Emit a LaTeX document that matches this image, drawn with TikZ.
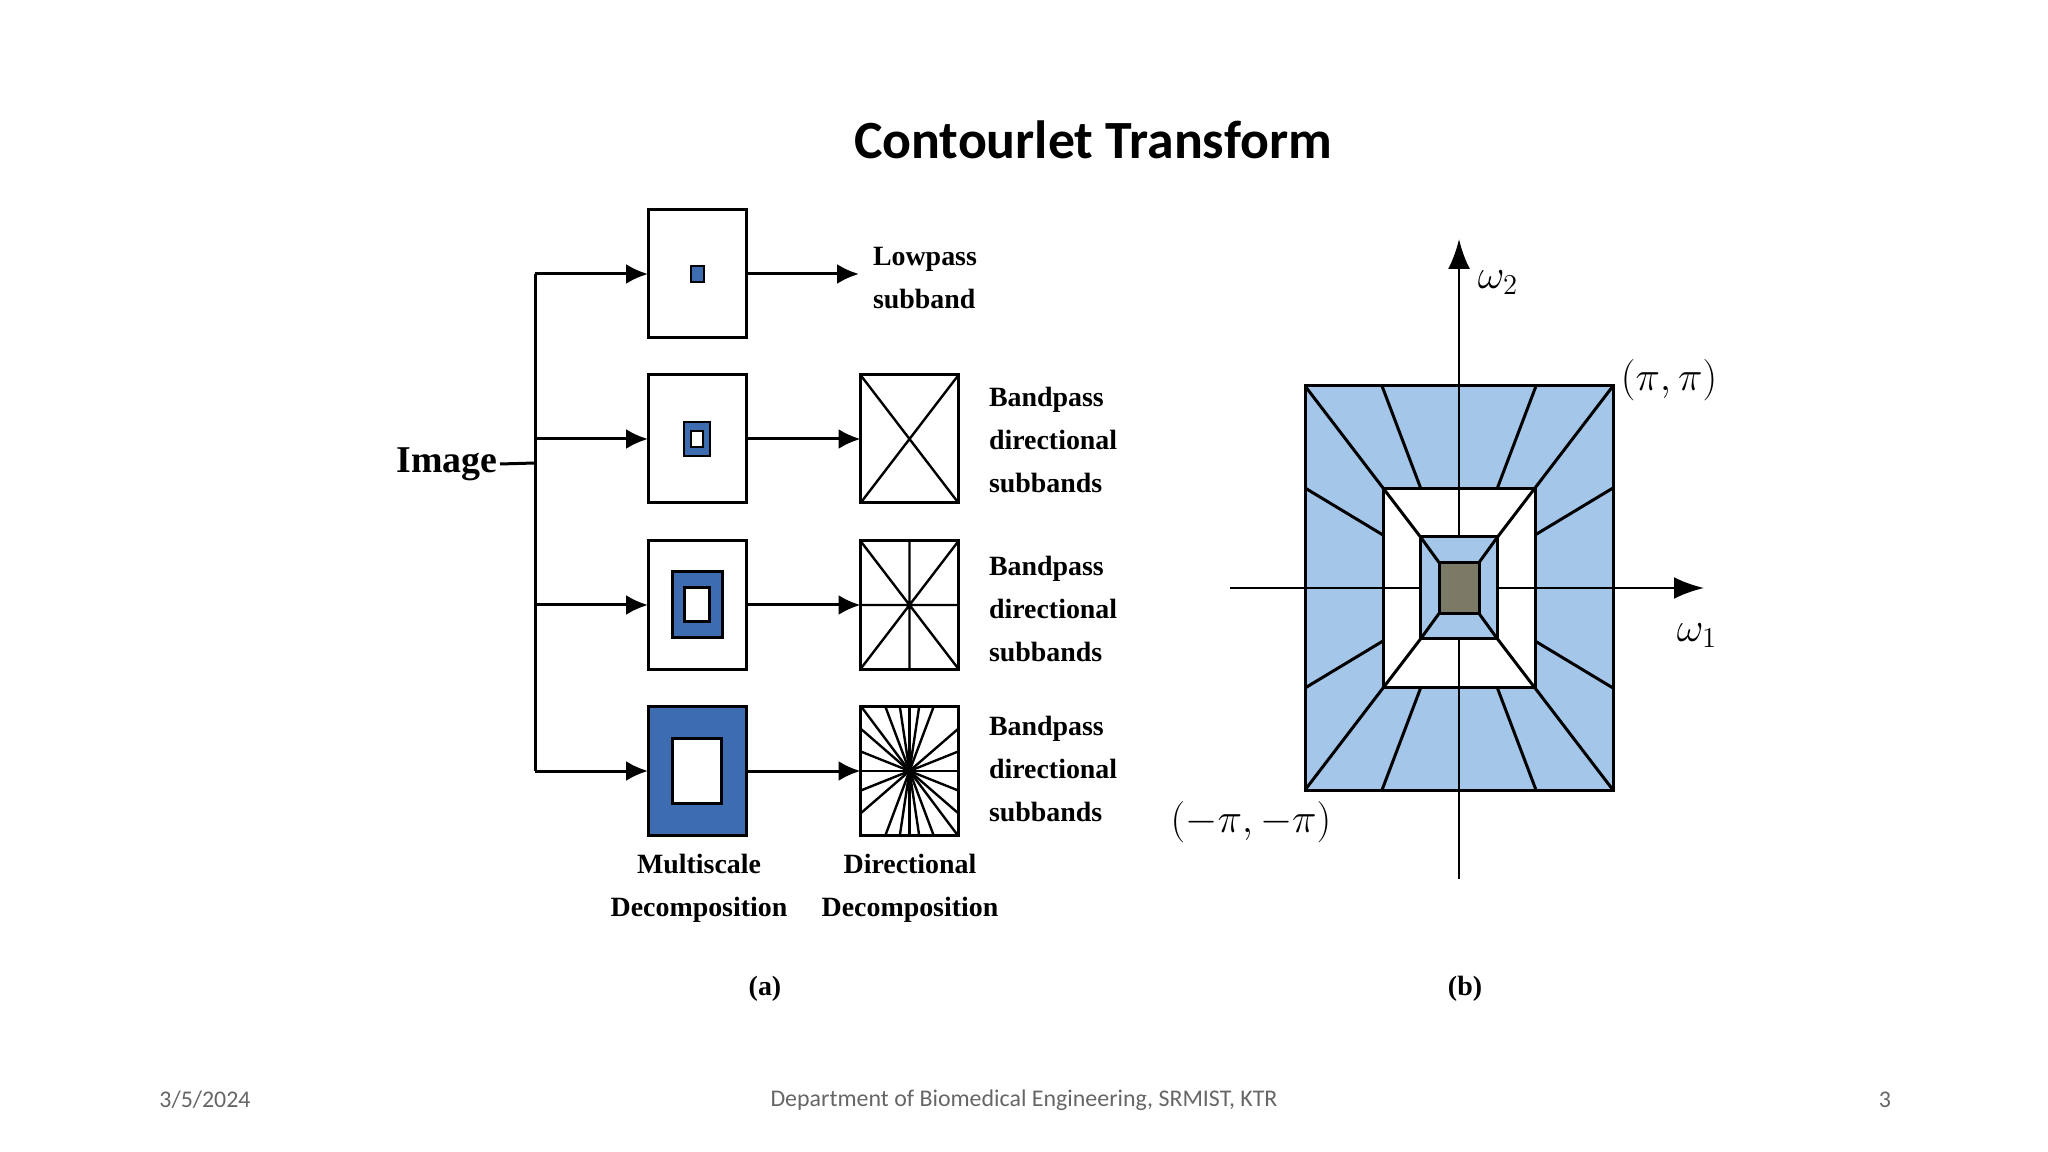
\documentclass[tikz,border=0pt]{standalone}
\usepackage{fontspec}
\setmainfont{Liberation Serif}
\newfontfamily\slidefont{Carlito}
\usetikzlibrary{arrows.meta,calc}

\definecolor{bandblue}{HTML}{3D6DB0}
\definecolor{freqblue}{HTML}{A4C6E8}
\definecolor{lowgray}{HTML}{7A7A66}

\tikzset{
  box/.style={draw,line width=1.5bp,minimum width=49bp,minimum height=64bp,inner sep=0pt,outer sep=0pt},
  flow/.style={line width=1.5bp,-{Latex[length=11bp,width=10bp]}},
  lbl/.style={font=\bfseries\fontsize{14}{21.5}\selectfont,align=left,anchor=west},
  undertext/.style={font=\bfseries\fontsize{14}{21.5}\selectfont,align=center},
  foot/.style={font=\slidefont\fontsize{12}{14}\selectfont,text=black!60},
  axlbl/.style={font=\fontsize{20}{24}\selectfont}
}

\begin{document}
\begin{tikzpicture}[x=0.5bp,y=-0.5bp]
  \useasboundingbox (0,0) rectangle (2048,1152);

  % title and footer
  \node[font=\slidefont\bfseries\fontsize{27}{30}\selectfont] (title) at (1093,140) {Contourlet Transform};
  \node[foot] (date) at (205,1100) {3/5/2024};
  \node[foot] (dept) at (1024,1100) {Department of Biomedical Engineering, SRMIST, KTR};
  \node[foot] (page) at (1885,1100) {3};

  % (a) multiscale boxes
  \node[box] (m1) at (697,274) {};
  \node[box] (m2) at (697,439) {};
  \node[box] (m3) at (697,605) {};
  \node[box,fill=bandblue] (m4) at (697,771) {};
  % directional boxes
  \node[box] (d2) at (909.5,439) {};
  \node[box] (d3) at (909.5,605) {};
  \node[box] (d4) at (909.5,771) {};

  % inner squares
  \draw[line width=1bp,fill=bandblue] ($(m1.center)+(-6.5,-8)$) rectangle ($(m1.center)+(6.5,8)$);
  \draw[line width=1.3bp,fill=bandblue] ($(m2.center)+(-13,-17)$) rectangle ($(m2.center)+(13,17)$);
  \draw[line width=1.3bp,fill=white] ($(m2.center)+(-6,-8)$) rectangle ($(m2.center)+(6,8)$);
  \draw[line width=1.5bp,fill=bandblue] ($(m3.center)+(-25,-33)$) rectangle ($(m3.center)+(25,33)$);
  \draw[line width=1.5bp,fill=white] ($(m3.center)+(-12.5,-17)$) rectangle ($(m3.center)+(12.5,17)$);
  \draw[line width=1.5bp,fill=white] ($(m4.center)+(-24.5,-32.5)$) rectangle ($(m4.center)+(24.5,32.5)$);

  % directional lines
  \draw[line width=1.2bp] (d2.north west) -- (d2.south east) (d2.north east) -- (d2.south west);
  \draw[line width=1.2bp] (d3.north west) -- (d3.south east) (d3.north east) -- (d3.south west)
    (d3.north) -- (d3.south) (d3.west) -- (d3.east);
  \foreach \t in {-1,-0.5,-0.2,0,0.2,0.5}
    \draw[line width=1.2bp] ($(d4.center)+(\t*48,-64)$) -- ($(d4.center)+(-\t*48,64)$);
  \foreach \s in {-0.65,-0.3,0,0.3,0.65}
    \draw[line width=1.2bp] ($(d4.center)+(-48,\s*64)$) -- ($(d4.center)+(48,-\s*64)$);

  % fork from image
  \node[font=\bfseries\fontsize{19}{22}\selectfont,anchor=east,inner sep=1pt] (img) at (500,464) {Image};
  \coordinate (fk) at (535,463);
  \coordinate (j1) at (535,274);
  \coordinate (j2) at (535,439);
  \coordinate (j3) at (535,605);
  \coordinate (j4) at (535,771);
  \draw[line width=1.5bp] (img.east) -- (fk);
  \draw[line width=1.5bp] (j1) -- (j4);
  \foreach \i in {1,2,3,4}
    \draw[flow] (j\i) -- (m\i.west);
  \coordinate (lo) at (859,274);
  \draw[flow] (m1.east) -- (lo);
  \foreach \i in {2,3,4}
    \draw[flow] (m\i.east) -- (d\i.west);

  % labels
  \node[lbl] (lowlbl) at (866,278) {Lowpass\\subband};
  \node[lbl] (bp2) at (982,440) {Bandpass\\directional\\subbands};
  \node[lbl] (bp3) at (982,609) {Bandpass\\directional\\subbands};
  \node[lbl] (bp4) at (982,769) {Bandpass\\directional\\subbands};
  \node[undertext] (mscap) at (699,888) {Multiscale\\Decomposition};
  \node[undertext] (dscap) at (910,888) {Directional\\Decomposition};
  \node[undertext] (capa) at (765,989) {(a)};
  \node[undertext] (capb) at (1465,989) {(b)};

  % (b) frequency partition
  \begin{scope}[shift={(1459,588)},line width=1.5bp]
    \fill[freqblue] (-154,-202) rectangle (154,202);
    \fill[white] (-76,-99) rectangle (76,99);
    \fill[freqblue] (-38.5,-51) rectangle (38.5,51);
    \fill[lowgray] (-20,-25.5) rectangle (20,25.5);
    % axes
    \draw[line width=1.4bp] (-229,0) -- (-38.5,0) (38.5,0) -- (190,0);
    \draw[line width=1.4bp,-{Latex[length=15bp,width=11bp]}] (190,0) -- (245,0);
    \draw[line width=1.4bp] (0,291) -- (0,51) (0,-51) -- (0,-290);
    \draw[line width=1.4bp,-{Latex[length=15bp,width=11bp]}] (0,-290) -- (0,-349);
    % squares
    \draw (-154,-202) rectangle (154,202);
    \draw (-76,-99) rectangle (76,99);
    \draw (-38.5,-51) rectangle (38.5,51);
    \draw (-20,-25.5) rectangle (20,25.5);
    % wedge edges
    \foreach \sx in {-1,1}
      \foreach \sy in {-1,1} {
        \draw (\sx*154,\sy*202) -- (\sx*38.5,\sy*51);
        \draw (\sx*38.5,\sy*51) -- (\sx*20,\sy*25.5);
        \draw (\sx*154,\sy*100) -- (\sx*76,\sy*53);
        \draw (\sx*77,\sy*202) -- (\sx*38,\sy*99);
      }
  \end{scope}
  \node[axlbl] (w2) at (1498,283) {$\omega_2$};
  \node[axlbl] (w1) at (1697,636) {$\omega_1$};
  \node[axlbl] (pp) at (1669,380) {$\Bigl(\pi,\pi\Bigr)$};
  \node[axlbl] (mm) at (1251,822) {$\Bigl(-\pi,-\pi\Bigr)$};
\end{tikzpicture}
\end{document}
